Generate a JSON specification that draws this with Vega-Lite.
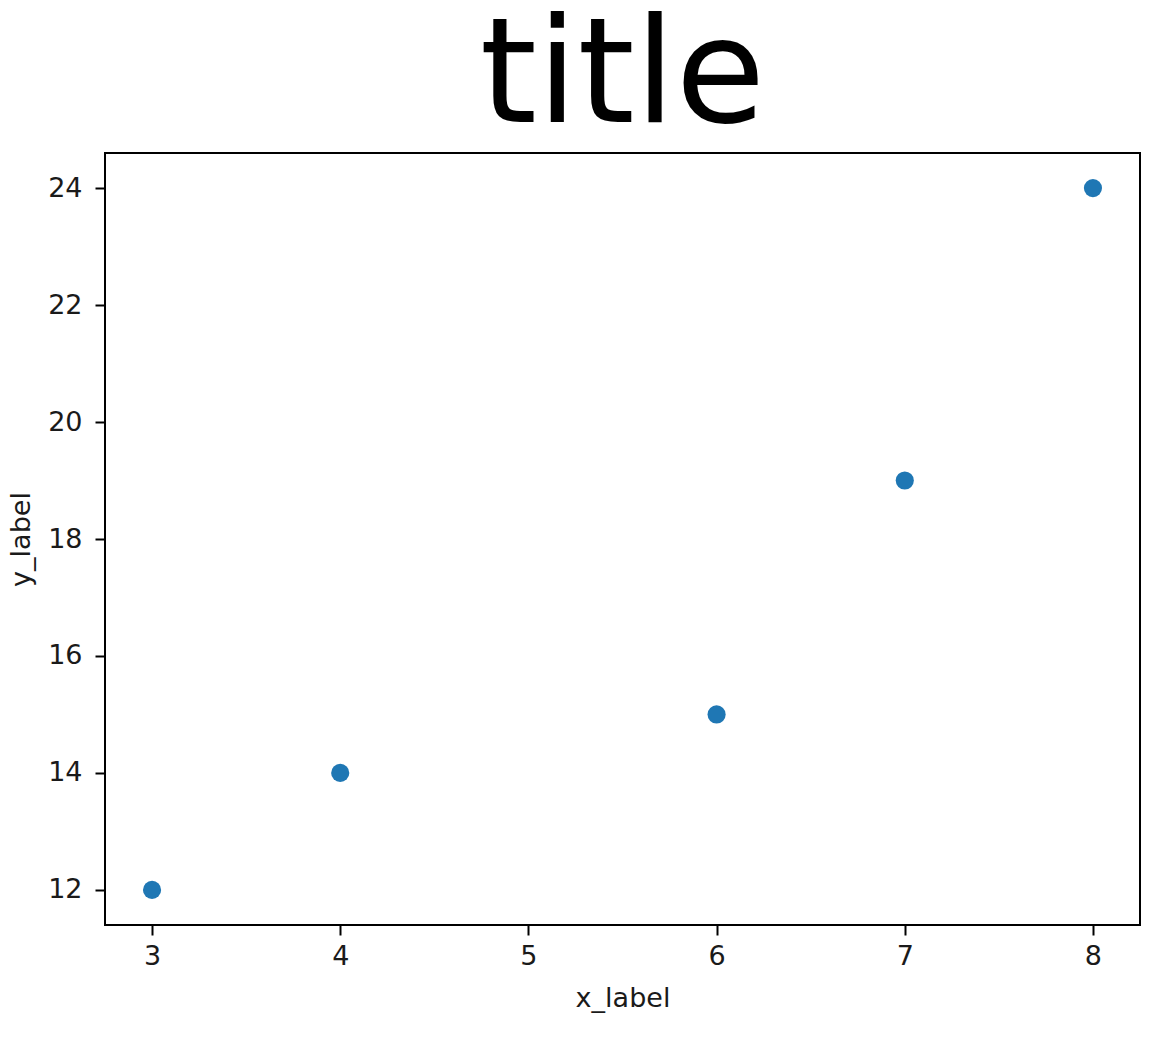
{
  "$schema": "https://vega.github.io/schema/vega-lite/v6.json",
  "autosize": "none",
  "padding": {"left": 105, "top": 153, "right": 20, "bottom": 118},
  "width": 1035,
  "height": 772,
  "background": "white",
  "title": {
    "text": "title",
    "anchor": "middle",
    "font": "DejaVu Sans",
    "fontSize": 146,
    "fontWeight": "normal",
    "color": "black",
    "baseline": "alphabetic",
    "offset": 30,
    "dy": 145
  },
  "config": {
    "view": {"stroke": "black", "strokeWidth": 2},
    "axis": {
      "grid": false,
      "domain": false,
      "tickColor": "black",
      "tickSize": 10,
      "tickWidth": 2,
      "labelFont": "DejaVu Sans",
      "labelFontSize": 27,
      "labelColor": "#1a1a1a",
      "titleFont": "DejaVu Sans",
      "titleFontSize": 27,
      "titleFontWeight": "normal",
      "titleColor": "#1a1a1a"
    }
  },
  "data": {
    "values": [
      {"x": 3, "y": 12}, {"x": 4, "y": 14}, {"x": 6, "y": 15},
      {"x": 7, "y": 19}, {"x": 8, "y": 24}
    ]
  },
  "mark": {"type": "circle", "color": "#1f77b4", "opacity": 1, "size": 330},
  "encoding": {
    "x": {
      "field": "x", "type": "quantitative", "title": "x_label",
      "scale": {"domain": [2.75, 8.25], "nice": false, "zero": false},
      "axis": {"values": [3, 4, 5, 6, 7, 8], "labelPadding": 8, "titlePadding": 16}
    },
    "y": {
      "field": "y", "type": "quantitative", "title": "y_label",
      "scale": {"domain": [11.4, 24.6], "nice": false, "zero": false},
      "axis": {"values": [12, 14, 16, 18, 20, 22, 24], "labelPadding": 13, "titlePadding": 12}
    }
  }
}
